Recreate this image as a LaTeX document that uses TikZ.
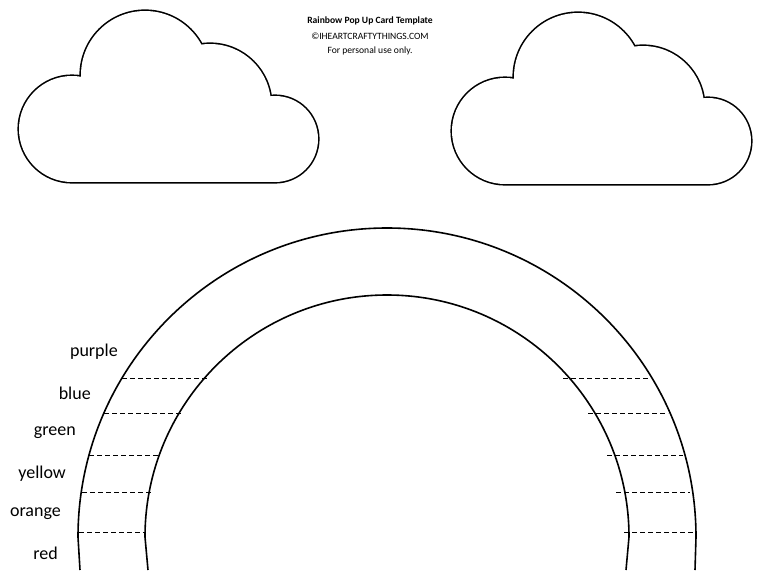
\documentclass[tikz,border=0pt]{standalone}
\usepackage{fontspec}
\setmainfont{Carlito}
\begin{document}
\begin{tikzpicture}[x=1pt,y=-1pt,
  lbl/.style={anchor=east,font=\fontsize{18}{20}\selectfont,inner sep=0pt},
  ttl/.style={font=\fontsize{9.6}{11}\selectfont,inner sep=0pt},
  arch/.style={line width=1.6pt},
  cut/.style={dashed,line width=0.8pt,dash pattern=on 5pt off 3pt}]
\useasboundingbox (0,0) rectangle (768,576);
\fill[white] (0,0) rectangle (768,576);
% clouds
\foreach \s/\t in {0/0,433/2}{
  \begin{scope}[shift={(\s,\t)}]
  \draw[line width=3.2pt] (72,129) circle (53) (145,75) circle (64) (210,105) circle (61) (275,139) circle (43) (72,110) rectangle (275,182);
  \fill[white] (72,129) circle (53);
  \fill[white] (145,75) circle (64);
  \fill[white] (210,105) circle (61);
  \fill[white] (275,139) circle (43);
  \fill[white] (72,110) rectangle (275,182);
  \end{scope}}
% title
\node[ttl,font=\fontsize{9.6}{11}\selectfont\bfseries] (t1) at (370,21) {Rainbow Pop Up Card Template};
\node[ttl] (t2) at (370,36) {©IHEARTCRAFTYTHINGS.COM};
\node[ttl] (t3) at (370,51) {For personal use only.};
% rainbow
\draw[arch] (80,570) -- (78,537) arc[start angle=180,end angle=360,radius=309] -- (695,570);
\draw[arch] (148,570) -- (145,537) arc[start angle=180,end angle=360,radius=242] -- (626,570);
\foreach \y/\a/\b/\c/\d in {378/122/207/563/650, 413/104/181/588/668, 455/89/160/607/683, 492/82/151/616/690, 532/79/146/624/694}{
  \draw[cut] (\a,\y) -- (\b,\y);
  \draw[cut] (\c,\y) -- (\d,\y);}
\node[lbl] (purple) at (118,352) {purple};
\node[lbl] (blue) at (91,393) {blue};
\node[lbl] (green) at (76,433) {green};
\node[lbl] (yellow) at (66,474) {yellow};
\node[lbl] (orange) at (61,514) {orange};
\node[lbl] (red) at (58,553) {red};
\end{tikzpicture}
\end{document}
